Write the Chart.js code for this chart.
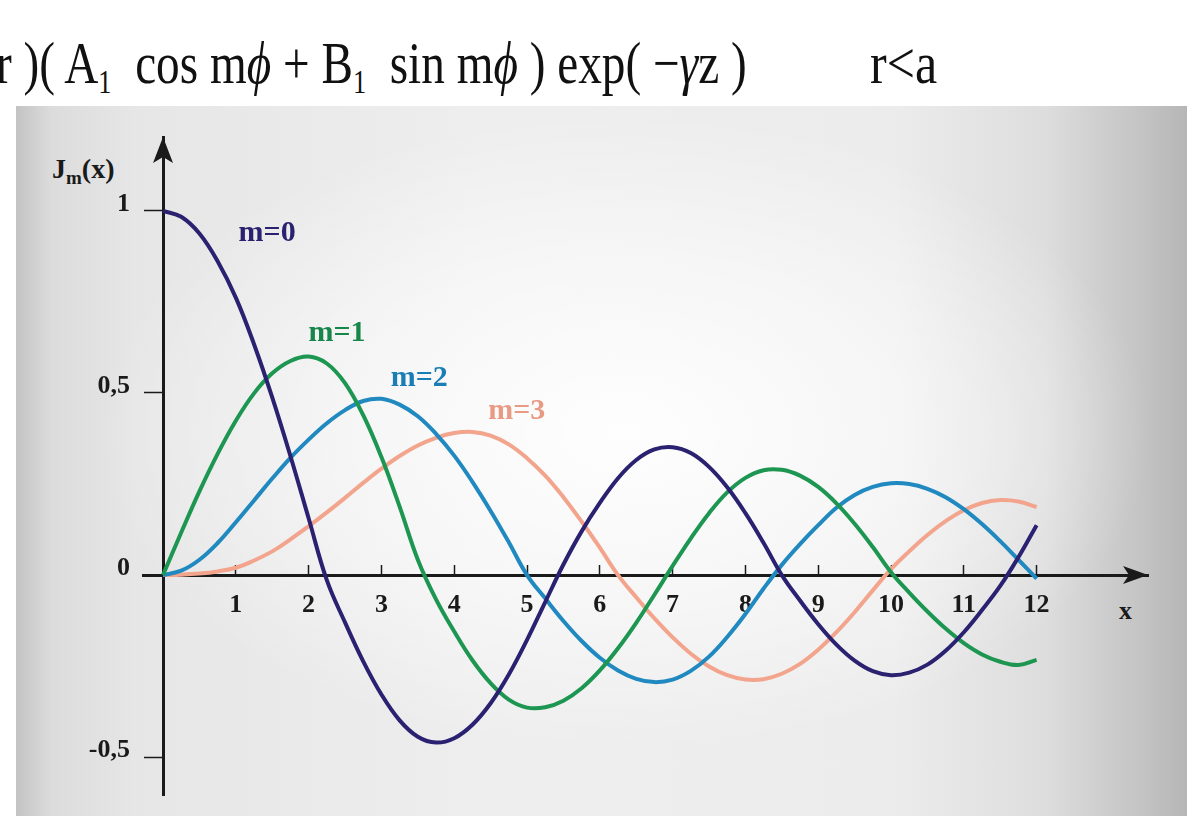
<!DOCTYPE html>
<html>
<head>
<meta charset="utf-8">
<script src="https://cdn.jsdelivr.net/npm/chart.js@4.4.1/dist/chart.umd.min.js"></script>
<style>
  html, body { margin: 0; padding: 0; width: 1187px; height: 816px; overflow: hidden; background: #fff; }
  #panel {
    position: absolute; left: 16px; top: 106px; width: 1171px; height: 710px;
    background:
      radial-gradient(ellipse 45% 45% at 52% 46%, rgba(255,255,255,0.95) 0%, rgba(255,255,255,0.5) 55%, rgba(255,255,255,0) 100%),
      linear-gradient(to right, #c3c3c3 0%, #dcdcdc 3%, #e6e6e6 10%, #eeeeee 40%, #ececec 75%, #dddddd 88%, #c4c4c4 96%, #b6b6b6 100%);
  }
  #chart { position: absolute; left: 0; top: 0; }
  .formula { position: absolute; top: 34px; font-family: "Liberation Serif", "DejaVu Serif", serif; font-size: 59px; color: #111; white-space: pre; line-height: 1; transform-origin: 0 0; }
  .formula sub { font-size: 33px; vertical-align: -10px; }
  .axt { position: absolute; font-family: "Liberation Serif", serif; font-weight: bold; color: #1a1a1a; white-space: pre; line-height: 1; }
  .axt sub { font-size: 19px; vertical-align: -6px; }
</style>
</head>
<body>
<div id="panel"></div>
<div class="formula" id="formula">r )( A<sub>1</sub>  cos m<i>ϕ</i> + B<sub>1</sub>  sin m<i>ϕ</i> ) exp( −<i>γ</i>z )</div>
<div class="formula" id="cond" style="left:870px">r&lt;a</div>
<div class="axt" style="left:52px; top:155px; font-size:28px">J<sub>m</sub>(x)</div>
<div class="axt" style="left:1119px; top:598px; font-size:26px">x</div>
<canvas id="chart" width="1187" height="816"></canvas>
<script>
// sample points along x, every quarter unit
const xValues = [0, 0.25, 0.5, 0.75, 1, 1.25, 1.5, 1.75, 2, 2.25, 2.5, 2.75, 3, 3.25, 3.5, 3.75, 4, 4.25, 4.5, 4.75,
  5, 5.25, 5.5, 5.75, 6, 6.25, 6.5, 6.75, 7, 7.25, 7.5, 7.75, 8, 8.25, 8.5, 8.75, 9, 9.25, 9.5, 9.75,
  10, 10.25, 10.5, 10.75, 11, 11.25, 11.5, 11.75, 12];

// J_m(x) at those points
const m0 = [1.0, 0.984, 0.938, 0.862, 0.762, 0.634, 0.488, 0.327, 0.156, -0.014, -0.13, -0.237, -0.328, -0.399, -0.444, -0.46, -0.448, -0.411, -0.352, -0.273,
  -0.178, -0.074, 0.029, 0.12, 0.198, 0.266, 0.316, 0.345, 0.351, 0.335, 0.297, 0.241, 0.17, 0.088, 0, -0.07, -0.135, -0.191, -0.235, -0.264,
  -0.275, -0.268, -0.246, -0.208, -0.157, -0.096, -0.03, 0.049, 0.137];
const m1 = [0, 0.117, 0.23, 0.333, 0.424, 0.499, 0.554, 0.588, 0.6, 0.581, 0.527, 0.439, 0.324, 0.188, 0.042, -0.067, -0.155, -0.234, -0.297, -0.342,
  -0.364, -0.363, -0.345, -0.311, -0.262, -0.201, -0.131, -0.054, 0.025, 0.101, 0.17, 0.227, 0.267, 0.288, 0.289, 0.273, 0.242, 0.197, 0.141, 0.077,
  0.008, -0.048, -0.1, -0.147, -0.187, -0.218, -0.238, -0.247, -0.233];
const m2 = [0, 0.012, 0.042, 0.088, 0.145, 0.205, 0.265, 0.322, 0.372, 0.417, 0.453, 0.478, 0.484, 0.468, 0.436, 0.388, 0.328, 0.256, 0.176, 0.09,
  0, -0.064, -0.126, -0.181, -0.227, -0.262, -0.285, -0.294, -0.287, -0.263, -0.224, -0.17, -0.107, -0.037, 0.028, 0.085, 0.137, 0.185, 0.22, 0.242,
  0.252, 0.25, 0.237, 0.214, 0.181, 0.14, 0.093, 0.042, -0.01];
const m3 = [0, 0.001, 0.004, 0.01, 0.02, 0.04, 0.065, 0.098, 0.134, 0.172, 0.212, 0.253, 0.292, 0.327, 0.356, 0.377, 0.39, 0.393, 0.383, 0.359,
  0.321, 0.273, 0.214, 0.147, 0.075, 0, -0.061, -0.119, -0.171, -0.216, -0.251, -0.275, -0.287, -0.286, -0.271, -0.244, -0.205, -0.157, -0.102, -0.042,
  0.016, 0.065, 0.11, 0.148, 0.178, 0.198, 0.206, 0.202, 0.187];

const seriesNames = ['m=0', 'm=1', 'm=2', 'm=3'];
const xTicks = [1, 2, 3, 4, 5, 6, 7, 8, 9, 10, 11, 12];
const yTicks = [-0.5, 0, 0.5, 1];
const yTickLabels = ['-0,5', '0', '0,5', '1'];

const colors = ['#2a2170', '#1c9650', '#2089c0', '#f2a58c'];
const labelColors = ['#2a2170', '#17864a', '#1a7db3', '#e89a84'];
// where each "m=" label sits, in data units
const labelSpots = [[1.43, 0.94], [2.39, 0.665], [3.52, 0.541], [4.86, 0.45]];

// squeeze the formula line to the width it has in the picture
const f = document.getElementById('formula');
f.style.left = '-4px';
f.style.transform = 'scaleX(' + (751 / f.offsetWidth) + ')';
const c = document.getElementById('cond');
c.style.transform = 'scaleX(' + (67 / c.offsetWidth) + ')';

const series = [m0, m1, m2, m3];
const axisColor = '#1a1a1a';
const tickFont = { family: 'Liberation Serif', weight: 'bold', size: 26 };

const extras = {
  id: 'extras',
  afterDraw(chart) {
    const ctx = chart.ctx;
    const xs = chart.scales.x, ys = chart.scales.y;
    const ox = xs.getPixelForValue(0), oy = ys.getPixelForValue(0);
    ctx.save();
    ctx.fillStyle = axisColor;
    // arrow on x
    const tx = xs.right;
    ctx.beginPath();
    ctx.moveTo(tx, oy);
    ctx.lineTo(tx - 25, oy - 9);
    ctx.lineTo(tx - 19, oy);
    ctx.lineTo(tx - 25, oy + 9);
    ctx.closePath();
    ctx.fill();
    // arrow on y
    const ty = ys.top;
    ctx.beginPath();
    ctx.moveTo(ox, ty);
    ctx.lineTo(ox - 10, ty + 26);
    ctx.lineTo(ox, ty + 20);
    ctx.lineTo(ox + 10, ty + 26);
    ctx.closePath();
    ctx.fill();
    // y tick labels, left of the tick marks
    ctx.font = 'bold 26px "Liberation Serif"';
    ctx.textAlign = 'right';
    ctx.textBaseline = 'middle';
    ys.ticks.forEach(t => {
      ctx.fillText(yTickLabels[yTicks.indexOf(t.value)], ox - 33, ys.getPixelForValue(t.value) - 7);
    });
    // series names
    ctx.font = 'bold 30px "Liberation Serif"';
    ctx.textAlign = 'center';
    labelSpots.forEach((p, i) => {
      ctx.fillStyle = labelColors[i];
      ctx.fillText(seriesNames[i], xs.getPixelForValue(p[0]), ys.getPixelForValue(p[1]));
    });
    ctx.restore();
  }
};

new Chart(document.getElementById('chart'), {
  type: 'line',
  data: {
    datasets: series.map((ys, i) => ({
      label: seriesNames[i],
      data: xValues.map((x, k) => ({ x: x, y: ys[k] })),
      borderColor: colors[i],
      borderWidth: 4,
      pointRadius: 0,
      fill: false,
      tension: 0.4
    }))
  },
  options: {
    responsive: false,
    animation: false,
    devicePixelRatio: 1,
    layout: { padding: { left: 143, right: 39, top: 137, bottom: 21 } },
    plugins: { legend: { display: false }, tooltip: { enabled: false } },
    scales: {
      x: {
        type: 'linear',
        min: -0.275,
        max: 13.53,
        position: { y: 0 },
        border: { color: axisColor, width: 3 },
        grid: { drawOnChartArea: false, drawTicks: true, tickLength: -12, tickColor: axisColor, tickWidth: 1.5 },
        afterBuildTicks: s => { s.ticks = xTicks.map(v => ({ value: v })); },
        ticks: { autoSkip: false, maxRotation: 0, color: axisColor, font: tickFont, padding: 27, callback: v => String(v) }
      },
      y: {
        type: 'linear',
        min: -0.604,
        max: 1.203,
        position: { x: 0 },
        border: { color: axisColor, width: 3 },
        grid: { drawOnChartArea: false, drawTicks: true, tickLength: 18, tickColor: axisColor, tickWidth: 1.5 },
        afterBuildTicks: s => { s.ticks = yTicks.map(v => ({ value: v })); },
        ticks: { display: false }
      }
    }
  },
  plugins: [extras]
});
</script>
</body>
</html>
